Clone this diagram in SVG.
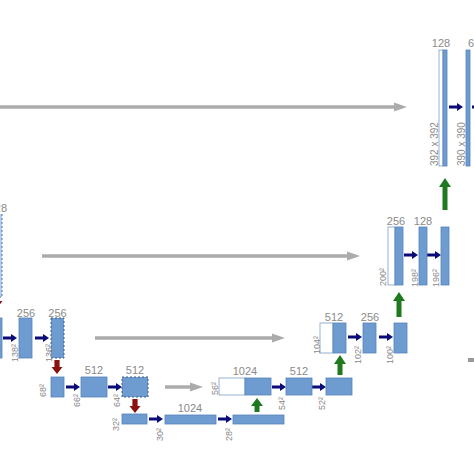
<svg xmlns="http://www.w3.org/2000/svg" xmlns:xlink="http://www.w3.org/1999/xlink" width="474" height="474" viewBox="0 0 474 474">
<style>
.b{fill:#6e9cd0;stroke:#5683b8;stroke-width:0.8}
.w{fill:#ffffff;stroke:#7f9fc4;stroke-width:0.8}
.d{fill:#6e9cd0;stroke:#2f4f80;stroke-width:0.9;stroke-dasharray:2 2}
.p{fill:#b4cfee;stroke:#3f6aa0;stroke-width:0.9;stroke-dasharray:2 2}
.t{font-family:"Liberation Sans",Arial,sans-serif;font-size:11px;fill:#8a8a8a;text-anchor:middle}
.r{font-family:"Liberation Sans",Arial,sans-serif;font-size:9px;fill:#8a8a8a;text-anchor:start}
.rl{font-family:"Liberation Sans",Arial,sans-serif;font-size:10px;fill:#8a8a8a;text-anchor:start}
.nv{fill:#0b0b78}
.rd{fill:#8b1010}
.gr{fill:#1f7a1f}
.gy{stroke:#ababab;stroke-width:3.5;fill:none}
.gyh{fill:#ababab}
</style>
<defs>
<polygon id="na" points="0,-1.6 8,-1.6 8,-4 14,0 8,4 8,1.6 0,1.6"/>
<polygon id="rdown" points="-2.6,0 2.6,0 2.6,7 5.5,7 0,14 -5.5,7 -2.6,7"/>
</defs>
<g id="connectors">
<line class="gy" x1="0" y1="107" x2="396" y2="107"/><polygon class="gyh" points="394,102.5 407,107 394,111.5"/>
<line class="gy" x1="42" y1="256" x2="349" y2="256"/><polygon class="gyh" points="347,251.5 360,256 347,260.5"/>
<line class="gy" x1="95" y1="338" x2="274" y2="338"/><polygon class="gyh" points="272,333.5 285,338 272,342.5"/>
<line class="gy" x1="165" y1="387" x2="192" y2="387"/><polygon class="gyh" points="190,382.5 203,387 190,391.5"/>
<use class="nv" xlink:href="#na" href="#na" x="3" y="338"/>
<use class="nv" xlink:href="#na" href="#na" x="35" y="338"/>
<use class="nv" xlink:href="#na" href="#na" x="66" y="387"/>
<use class="nv" xlink:href="#na" href="#na" x="108" y="387"/>
<use class="nv" xlink:href="#na" href="#na" x="149" y="419"/>
<use class="nv" xlink:href="#na" href="#na" x="218" y="419"/>
<use class="nv" xlink:href="#na" href="#na" x="272" y="387"/>
<use class="nv" xlink:href="#na" href="#na" x="312" y="387"/>
<use class="nv" xlink:href="#na" href="#na" x="348" y="337"/>
<use class="nv" xlink:href="#na" href="#na" x="379" y="337"/>
<use class="nv" xlink:href="#na" href="#na" x="404" y="255"/>
<use class="nv" xlink:href="#na" href="#na" x="427" y="255"/>
<use class="nv" xlink:href="#na" href="#na" x="449" y="107"/>
<use class="nv" xlink:href="#na" href="#na" x="472" y="107"/>
<use class="rd" xlink:href="#rdown" href="#rdown" x="-3" y="294"/>
<use class="rd" xlink:href="#rdown" href="#rdown" x="57" y="360"/>
<use class="rd" xlink:href="#rdown" href="#rdown" x="135" y="399"/>
<polygon class="gr" points="254.5,412 259.5,412 259.5,406 263,406 257,398 251,406 254.5,406"/>
<polygon class="gr" points="337.5,375 342.5,375 342.5,364 346,364 340,355 334,364 337.5,364"/>
<polygon class="gr" points="396.5,317 401.5,317 401.5,301 405,301 399,292 393,301 396.5,301"/>
<polygon class="gr" points="442.5,210 447.5,210 447.5,187 451,187 445,178 439,187 442.5,187"/>
<rect x="468" y="358" width="8" height="4" fill="#9a9a9a"/>
</g>
<g id="n-top-left">
<rect class="p" x="-10" y="214" width="12" height="83"/>
<text class="t" x="7" y="212" style="text-anchor:end">128</text>
</g>
<g id="n-left-edge"><rect class="b" x="-10" y="318" width="12" height="40"/></g>
<g id="n-256a">
<rect class="b" x="19" y="318" width="13" height="40"/>
<text class="t" x="26" y="317">256</text>
<text class="r" transform="translate(18,362) rotate(-90)">138²</text>
</g>
<g id="n-256b">
<rect class="d" x="51" y="318" width="13" height="40"/>
<text class="t" x="57.5" y="317">256</text>
<text class="r" transform="translate(52,362) rotate(-90)">136²</text>
</g>
<g id="n-68">
<rect class="b" x="51" y="377" width="13" height="20"/>
<text class="r" transform="translate(46,397) rotate(-90)">68²</text>
</g>
<g id="n-512a">
<rect class="b" x="81" y="377" width="26" height="20"/>
<text class="t" x="94" y="374">512</text>
<text class="r" transform="translate(80,407) rotate(-90)">66²</text>
</g>
<g id="n-512b">
<rect class="d" x="122" y="377" width="26" height="20"/>
<text class="t" x="135" y="374">512</text>
<text class="r" transform="translate(120,407) rotate(-90)">64²</text>
</g>
<g id="n-32">
<rect class="b" x="122" y="414" width="25" height="10"/>
<text class="r" transform="translate(119,431) rotate(-90)">32²</text>
</g>
<g id="n-1024">
<rect class="b" x="165" y="415" width="51" height="9"/>
<text class="t" x="190" y="412">1024</text>
<text class="r" transform="translate(163,441) rotate(-90)">30²</text>
</g>
<g id="n-28">
<rect class="b" x="233" y="415" width="51" height="9"/>
<text class="r" transform="translate(232,441) rotate(-90)">28²</text>
</g>
<g id="n-56">
<rect class="w" x="219" y="378" width="26" height="17"/>
<rect class="b" x="245" y="378" width="26" height="17"/>
<text class="t" x="245" y="375">1024</text>
<text class="r" transform="translate(218,395) rotate(-90)">56²</text>
</g>
<g id="n-54">
<rect class="b" x="286" y="378" width="26" height="17"/>
<text class="t" x="299" y="375">512</text>
<text class="r" transform="translate(285,410) rotate(-90)">54²</text>
</g>
<g id="n-52">
<rect class="b" x="326" y="378" width="26" height="17"/>
<text class="r" transform="translate(325,410) rotate(-90)">52²</text>
</g>
<g id="n-104">
<rect class="w" x="320" y="323" width="13" height="30"/>
<rect class="b" x="333" y="323" width="13" height="30"/>
<text class="t" x="334" y="321">512</text>
<text class="r" transform="translate(320,354) rotate(-90)">104²</text>
</g>
<g id="n-102">
<rect class="b" x="363" y="323" width="13" height="30"/>
<text class="t" x="370" y="321">256</text>
<text class="r" transform="translate(361,364) rotate(-90)">102²</text>
</g>
<g id="n-100">
<rect class="b" x="394" y="323" width="13" height="30"/>
<text class="r" transform="translate(393,364) rotate(-90)">100²</text>
</g>
<g id="n-200">
<rect class="w" x="388" y="227" width="7" height="58"/>
<rect class="b" x="395" y="227" width="8" height="58"/>
<text class="t" x="396" y="225">256</text>
<text class="r" transform="translate(386,286) rotate(-90)">200²</text>
</g>
<g id="n-198">
<rect class="b" x="419" y="227" width="8" height="58"/>
<text class="t" x="423" y="225">128</text>
<text class="r" transform="translate(418,287) rotate(-90)">198²</text>
</g>
<g id="n-196">
<rect class="b" x="441" y="227" width="8" height="58"/>
<text class="r" transform="translate(439,287) rotate(-90)">196²</text>
</g>
<g id="n-392">
<rect class="w" x="439" y="50" width="4" height="116"/>
<rect class="b" x="443" y="50" width="4" height="116"/>
<text class="t" x="441" y="47">128</text>
<text class="rl" transform="translate(438,166) rotate(-90)">392 x 392</text>
</g>
<g id="n-390">
<rect class="b" x="466" y="50" width="4" height="116"/>
<text class="t" x="468" y="47" style="text-anchor:start">64</text>
<text class="rl" transform="translate(465,166) rotate(-90)">390 x 390</text>
</g>
</svg>
